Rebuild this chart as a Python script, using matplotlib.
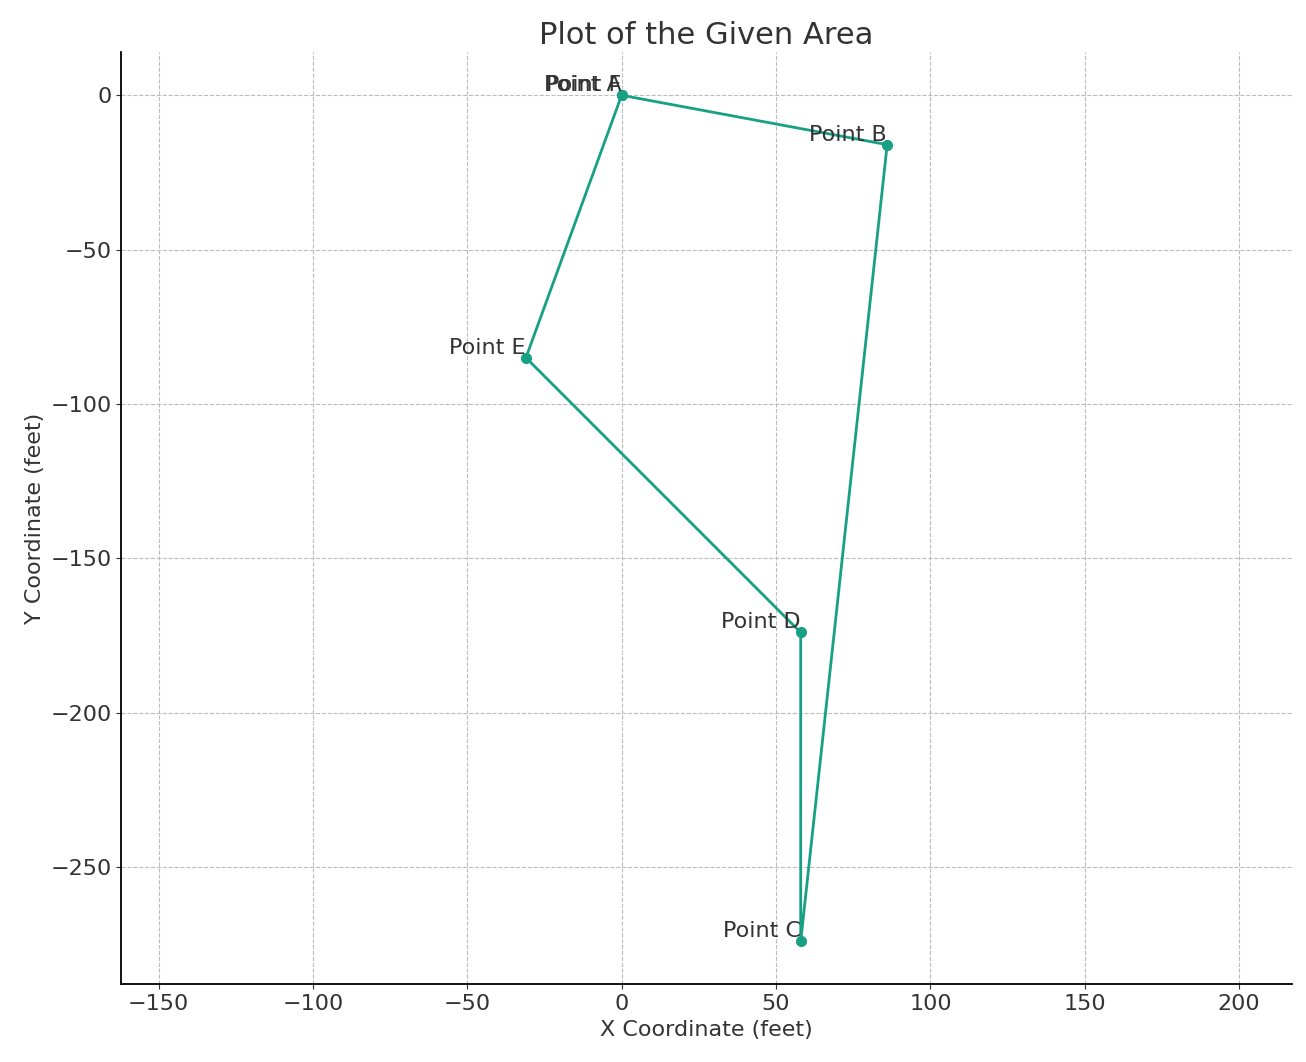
import matplotlib.pyplot as plt

# Points of the area (feet)
names = ['A', 'B', 'C', 'D', 'E', 'F']
x_vals = [0, 86, 58, 58, -31, 0]
y_vals = [0, -16, -274, -174, -85, 0]

plt.rcParams['font.family'] = 'DejaVu Sans'
plt.rcParams['text.color'] = '#333333'

fig = plt.figure(figsize=(13.06, 10.62), dpi=100)
ax = fig.add_axes([0.093, 0.073, 0.896, 0.878])

green = '#17a083'
ax.plot(x_vals, y_vals, color=green, lw=2, marker='o', markersize=7, zorder=3)
for n, x, y in zip(names, x_vals, y_vals):
    ax.text(x, y, 'Point ' + n, ha='right', va='bottom', fontsize=16, color='#333333')

ax.set_xlim(-162, 217)
ax.set_ylim(-288, 14)
ax.set_title('Plot of the Given Area', fontsize=22, color='#333333')
ax.set_xlabel('X Coordinate (feet)', fontsize=16, color='#333333')
ax.set_ylabel('Y Coordinate (feet)', fontsize=16, color='#333333')
ax.tick_params(labelsize=16, colors='#333333')
ax.grid(True, linestyle='--', color='#bbbbbb', lw=0.8)
ax.spines['top'].set_visible(False)
ax.spines['right'].set_visible(False)
ax.spines['left'].set_linewidth(1.3)
ax.spines['bottom'].set_linewidth(1.3)

fig.savefig('out.png')
